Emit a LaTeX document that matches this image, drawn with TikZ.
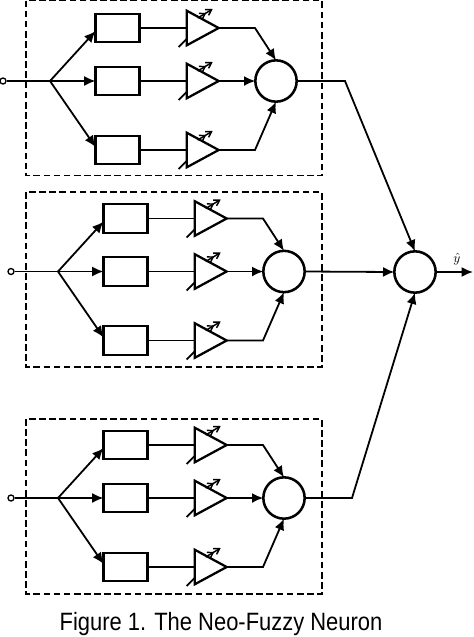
\documentclass[tikz,border=0pt]{standalone}
\usepackage{fontspec}
\setmainfont{Liberation Sans}
\usetikzlibrary{arrows.meta,shapes.geometric}
\tikzset{
  wire/.style={line width=1.35pt},
  flow/.style={line width=1.35pt,-{Latex[length=8.5pt,width=7.5pt]}},
  framebox/.style={line width=1.05pt,dash pattern=on 5pt off 2.6pt},
  mfbox/.style={draw,line width=1.7pt,minimum width=33pt,minimum height=21.5pt,inner sep=0pt,outer sep=0pt},
  gainbox/.style={draw,line width=1.7pt,isosceles triangle,isosceles triangle stretches,
    minimum width=26pt,minimum height=24pt,inner sep=0pt,outer sep=0pt},
  sumbox/.style={draw,circle,line width=1.9pt,minimum size=31pt,inner sep=0pt,outer sep=0pt},
  inputbox/.style={draw,circle,fill=white,line width=1pt,minimum size=4.5pt,inner sep=0pt},
  tunearrow/.style={line width=1.1pt,-{Straight Barb[length=4pt,width=5pt]Straight Barb[length=4pt,width=5pt]}},
  tuneslash/.style={line width=1.3pt}
}
\begin{document}
\begin{tikzpicture}[x=0.75pt,y=-0.75pt]
  \useasboundingbox (0,0) rectangle (474,637);
  \node[sumbox] (total) at (415,272) {};
  \foreach \b/\dx/\dy/\dz in {a/0/0/0.5, b/8/190.5/192, c/8/417/419} {
    \draw[framebox] (26,\dz) rectangle (322,\dz+175);
    \node[inputbox] (in\b) at (3+\dx,81+\dy) {};
    \coordinate (fork\b) at (50+\dx,81+\dy);
    \node[sumbox] (sum\b) at (276+\dx,81+\dy) {};
    \foreach \i/\yy in {1/28, 2/81, 3/150} {
      \node[mfbox] (mf\b\i) at (117.5+\dx,\yy+\dy) {};
      \node[gainbox] (gain\b\i) at (197+\dx,\yy+\dy) {};
      \draw[wire] (mf\b\i.east) -- (gain\b\i.west);
      \draw[tuneslash] ([shift={(-8,19)}]gain\b\i.west) -- ([shift={(0,11)}]gain\b\i.west);
      \draw[tunearrow] ([shift={(11,-10)}]gain\b\i.west) -- ([shift={(26,-19)}]gain\b\i.west);
    }
    \draw[wire] (in\b.east) -- (fork\b);
    \draw[flow] (fork\b) -- (mf\b1.188);
    \draw[flow] (fork\b) -- (mf\b2.west);
    \draw[flow] (fork\b) -- (mf\b3.172);
    \coordinate (bendt\b) at (255+\dx,28+\dy);
    \coordinate (bendb\b) at (255+\dx,150+\dy);
    \draw[flow] (gain\b1.apex) -- (bendt\b) -- (sum\b.north);
    \draw[flow] (gain\b2.apex) -- (sum\b.west);
    \draw[flow] (gain\b3.apex) -- (bendb\b) -- (sum\b.south);
  }
  \coordinate (benda) at (345,81);
  \coordinate (bendc) at (352,498);
  \coordinate (out) at (473,272);
  \draw[flow] (suma.east) -- (benda) -- (total.north);
  \draw[flow] (sumb.east) -- (total.west);
  \draw[flow] (sumc.east) -- (bendc) -- (total.south);
  \draw[flow] (total.east) -- (out);
  \node[font=\normalsize] (yhat) at (457,259) {$\hat{y}$};
  \node[font=\fontsize{18.8}{20}\selectfont,xscale=0.875] (caption) at (221,624) {Figure 1. The Neo-Fuzzy Neuron};
\end{tikzpicture}
\end{document}
